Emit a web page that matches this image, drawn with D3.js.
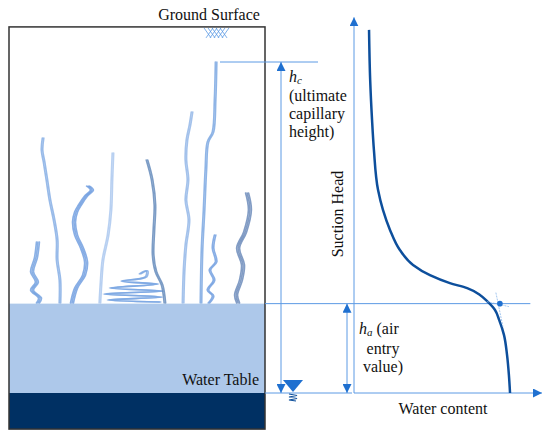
<!DOCTYPE html>
<html>
<head>
<meta charset="utf-8">
<script src="https://cdn.jsdelivr.net/npm/d3@7"></script>
<style>
  body { margin: 0; background: #fff; }
  text { font-family: "Liberation Serif", "DejaVu Serif", serif; fill: #111; }
</style>
</head>
<body>
<div id="chart"></div>
<script>
// soil column: x = % of column width, z = elevation above water table (% of hc)
const hc = 100
const ha = 27
const groundLevel = 110.6
const bedLevel = -10.9

// roots, [x %, elevation]
const rootA = [[11.3,45.6],[10.5,40.8],[9.0,36.6],[10.9,33.5],[9.0,31.1],[12.1,28.7],[11.3,27.2]]
const rootB = [[13.3,77.0],[12.9,73.4],[13.7,69.8],[14.8,64.4],[16.0,58.3],[17.6,52.3],[18.8,46.2],[18.8,40.2],[19.9,34.1],[19.9,27.2]]
const rootC = [[30.9,62.5],[32.4,61.3],[30.1,59.5],[27.7,56.8],[26.2,54.7],[25.4,51.7],[26.2,47.7],[28.5,43.8],[30.1,39.6],[29.3,35.6],[26.2,31.7],[24.6,27.2]]
const rootD = [[40.6,72.5],[40.2,64.4],[39.8,55.3],[38.7,47.7],[36.7,40.2],[35.9,32.6],[35.5,27.2]]
const rootE = [[51.2,36.0],[53.9,36.9],[53.5,35.1],[44.1,33.8],[58.2,32.9],[39.5,31.7],[60.2,30.8],[37.1,29.9],[59.8,29.0],[38.7,28.1],[59.0,27.5]]
const rootF = [[53.9,70.4],[55.9,64.4],[57.0,56.8],[56.6,49.2],[56.3,41.7],[57.4,36.6],[59.8,32.6],[60.9,27.2]]
const rootG = [[71.5,84.9],[70.7,81.0],[69.5,76.4],[69.1,70.4],[69.9,64.4],[69.1,58.3],[70.3,52.3],[69.1,44.7],[68.4,37.2],[68.0,27.2]]
const rootH = [[80.9,100],[80.5,88.5],[79.7,78.9],[77.7,75.8],[76.9,67.4],[76.2,55.3],[75.4,43.2],[75.0,27.2]]
const rootI = [[80.5,47.7],[79.7,43.8],[80.9,39.6],[78.5,37.2],[80.1,34.1],[77.7,31.1],[79.7,29.3],[78.1,27.2]]
const rootJ = [[93.0,60.4],[94.1,55.3],[92.2,48.6],[89.5,43.8],[91.4,38.7],[90.6,34.1],[88.7,29.6],[89.5,27.2]]

// soil water characteristic curve: water content vs suction head
const swccTheta = [0.040,0.043,0.048,0.053,0.064,0.077,0.096,0.122,0.157,0.202,0.255,0.301,0.335,0.356,0.375,0.386,0.399,0.407,0.412,0.415]
const swccHead  = [109.7,94.6,82.5,73.4,61.3,55.3,49.2,43.2,38.7,35.6,33.2,31.7,29.6,27.5,25.1,22.1,17.5,11.5,5.4,0]
const airEntry = [0.388, ha]

const hcLabel = ["(ultimate", "capillary", "height)"]
const haLabel = ["entry", "value)"]

const width = 550
const height = 438
const colLeft = 9
const colRight = 265
const axisLeft = 354
const axisRight = 542
const lineBlue = "#5c9ae4"
const arrowBlue = "#1f70d0"
const fontSize = 16

const roots = [
    { pts: rootA, color: "#6e9ede", strands: 3 },
    { pts: rootB, color: "#80aae4", strands: 2 },
    { pts: rootC, color: "#6a9ade", strands: 3 },
    { pts: rootD, color: "#a6c4ee", strands: 2 },
    { pts: rootE, color: "#7ba6e2", strands: 2 },
    { pts: rootF, color: "#5d84b8", strands: 2 },
    { pts: rootG, color: "#8db3e6", strands: 2 },
    { pts: rootH, color: "#74a2e0", strands: 2 },
    { pts: rootI, color: "#6a9ade", strands: 2 },
    { pts: rootJ, color: "#6485b6", strands: 3 }
]

const sx = d3.scaleLinear([0, 100], [colLeft, colRight])
const sy = d3.scaleLinear([0, hc], [393, 62])          // shared elevation / suction head
const wx = d3.scaleLinear([0, 0.5], [axisLeft, axisLeft + 188])

const svg = d3.select("#chart").append("svg")
    .attr("width", width)
    .attr("height", height)
    .attr("viewBox", [0, 0, width, height])

const defs = svg.append("defs")
defs.append("marker")
    .attr("id", "arr")
    .attr("viewBox", "0 0 10 10")
    .attr("refX", 10).attr("refY", 5)
    .attr("markerWidth", 9).attr("markerHeight", 9)
    .attr("markerUnits", "userSpaceOnUse")
    .attr("orient", "auto-start-reverse")
    .append("path")
    .attr("d", "M0,0L10,5L0,10z")
    .attr("fill", arrowBlue)

// soil column
svg.append("rect")
    .attr("x", sx(0)).attr("y", sy(ha))
    .attr("width", sx(100) - sx(0)).attr("height", sy(0) - sy(ha))
    .attr("fill", "#adc8ea")
svg.append("rect")
    .attr("x", sx(0)).attr("y", sy(0))
    .attr("width", sx(100) - sx(0)).attr("height", sy(bedLevel) - sy(0))
    .attr("fill", "#003063")
svg.append("rect")
    .attr("x", sx(0)).attr("y", sy(groundLevel))
    .attr("width", sx(100) - sx(0)).attr("height", sy(bedLevel) - sy(groundLevel))
    .attr("fill", "none")
    .attr("stroke", "#333")
    .attr("stroke-width", 1.5)

// roots
const rootLine = d3.line()
    .x(d => sx(d[0]))
    .y(d => sy(d[1]))
    .curve(d3.curveCatmullRom)
const rootGroup = svg.append("g").attr("fill", "none").attr("stroke-linecap", "round")
roots.forEach(r => {
    d3.range(r.strands).forEach(k => {
        const off = (k - (r.strands - 1) / 2) * 1.5
        rootGroup.append("path")
            .attr("d", rootLine(r.pts))
            .attr("transform", `translate(${off},0)`)
            .attr("stroke", r.color)
            .attr("stroke-width", 1.6)
            .attr("stroke-opacity", 0.8)
    })
})

// ground surface hatch
const hatch = svg.append("g").attr("stroke", "#5c9ae4").attr("stroke-width", 0.8)
d3.range(5).forEach(i => {
    const x0 = 204 + i * 4
    hatch.append("line").attr("x1", x0).attr("y1", sy(groundLevel) + 1).attr("x2", x0 + 7).attr("y2", sy(groundLevel) + 11)
    hatch.append("line").attr("x1", x0 + 9).attr("y1", sy(groundLevel) + 1).attr("x2", x0 + 2).attr("y2", sy(groundLevel) + 11)
})

svg.append("text")
    .attr("x", 209).attr("y", 20)
    .attr("text-anchor", "middle")
    .attr("font-size", fontSize)
    .text("Ground Surface")
svg.append("text")
    .attr("x", 259).attr("y", sy(0) - 8)
    .attr("text-anchor", "end")
    .attr("font-size", fontSize)
    .text("Water Table")

// guide lines
const guides = svg.append("g").attr("stroke", lineBlue).attr("stroke-width", 1)
guides.append("line").attr("x1", 220).attr("x2", 318).attr("y1", sy(hc)).attr("y2", sy(hc))
guides.append("line").attr("x1", colRight).attr("x2", wx(0.469)).attr("y1", sy(ha)).attr("y2", sy(ha))
guides.append("line").attr("x1", colRight).attr("x2", 352).attr("y1", sy(0)).attr("y2", sy(0))

// hc and ha dimension arrows
guides.append("line")
    .attr("x1", 281).attr("x2", 281).attr("y1", sy(0)).attr("y2", sy(hc))
    .attr("marker-start", "url(#arr)").attr("marker-end", "url(#arr)")
guides.append("line")
    .attr("x1", 347).attr("x2", 347).attr("y1", sy(0)).attr("y2", sy(ha))
    .attr("marker-start", "url(#arr)").attr("marker-end", "url(#arr)")

// axes
guides.append("line")
    .attr("x1", wx(0)).attr("x2", wx(0)).attr("y1", sy(0)).attr("y2", sy(113.5))
    .attr("marker-end", "url(#arr)")
guides.append("line")
    .attr("x1", wx(0)).attr("x2", axisRight).attr("y1", sy(0)).attr("y2", sy(0))
    .attr("marker-end", "url(#arr)")

// water table symbol
const wt = svg.append("g").attr("transform", `translate(293,${sy(0)})`)
wt.append("path").attr("d", "M-10,-13L10,-13L0,-1z").attr("fill", arrowBlue)
wt.append("path")
    .attr("d", "M-4,1L4,2.5L-4,4L4,5.5L-4,7L3,8")
    .attr("fill", "none").attr("stroke", "#0d4f9c").attr("stroke-width", 1.2)

// labels
const hcText = svg.append("text").attr("x", 289).attr("y", 82).attr("font-size", fontSize)
hcText.append("tspan").attr("font-style", "italic").text("h")
hcText.append("tspan").attr("font-style", "italic").attr("font-size", 11).attr("dy", 2).text("c")
hcLabel.forEach((t, i) => {
    svg.append("text").attr("x", 289).attr("y", 101 + i * 18).attr("font-size", fontSize).text(t)
})
const haText = svg.append("text").attr("x", 359).attr("y", 334).attr("font-size", fontSize)
haText.append("tspan").attr("font-style", "italic").text("h")
haText.append("tspan").attr("font-style", "italic").attr("font-size", 11).attr("dy", 2).text("a")
haText.append("tspan").attr("dy", -2).text(" (air")
haLabel.forEach((t, i) => {
    svg.append("text").attr("x", 383).attr("y", 354 + i * 17.5).attr("text-anchor", "middle").attr("font-size", fontSize).text(t)
})
svg.append("text")
    .attr("x", 443).attr("y", 414)
    .attr("text-anchor", "middle").attr("font-size", fontSize)
    .text("Water content")
svg.append("text")
    .attr("transform", `translate(343,214) rotate(-90)`)
    .attr("text-anchor", "middle").attr("font-size", fontSize)
    .text("Suction Head")

// SWCC curve
const swcc = d3.line()
    .x(i => wx(swccTheta[i]))
    .y(i => sy(swccHead[i]))
    .curve(d3.curveMonotoneY)
svg.append("path")
    .attr("d", swcc(d3.range(swccTheta.length)))
    .attr("fill", "none")
    .attr("stroke", "#0d4f9c")
    .attr("stroke-width", 2.5)

// air entry tangents and point
const ax = wx(airEntry[0]), ay = sy(airEntry[1])
const tang = svg.append("g").attr("stroke", "#8ab6ea").attr("stroke-width", 0.8).attr("stroke-dasharray", "2,1")
tang.append("line").attr("x1", ax - 4).attr("y1", ay - 11).attr("x2", ax + 3).attr("y2", ay + 23)
tang.append("line").attr("x1", ax - 13).attr("y1", ay - 2).attr("x2", ax + 9).attr("y2", ay + 3)
svg.append("circle").attr("cx", ax).attr("cy", ay).attr("r", 2.8).attr("fill", arrowBlue)
</script>
</body>
</html>
